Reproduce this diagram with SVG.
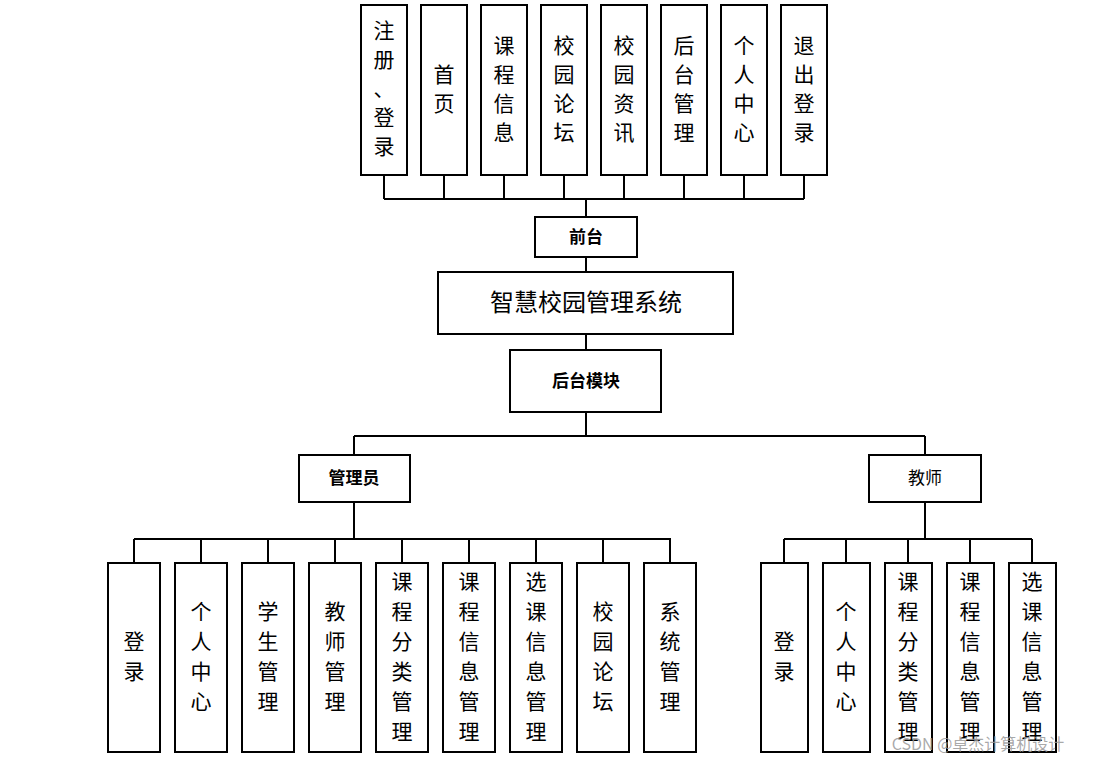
<svg xmlns="http://www.w3.org/2000/svg" width="1099" height="763" viewBox="0 0 1099 763">
<style>
rect{fill:#fff;stroke:#000;stroke-width:2}
text{font-family:"Noto Sans CJK SC","Liberation Sans",sans-serif;font-size:21px;text-anchor:middle;fill:#000}
.b{font-size:17px;font-weight:bold}
#c path{fill:none;stroke:#000;stroke-width:2}
</style>
<rect x="0" y="0" width="1099" height="763" style="fill:#fff;stroke:none"/>
<g id="c">
<path d="M384 175V199M444 175V199M504 175V199M564 175V199M624 175V199M684 175V199M744 175V199M804 175V199M384 199H804M586 199V217"/>
<path d="M586 257V272M586 334V350M586 412V436M354 436H925M354 436V455M925 436V455"/>
<path d="M354 502V539M134 539H671M134 539V563M201 539V563M268 539V563M335 539V563M402 539V563M469 539V563M536 539V563M603 539V563M670 539V563"/>
<path d="M925 502V539M784 539H1032M784 539V563M846 539V563M908 539V563M970 539V563M1032 539V563"/>
</g>
<g id="t1"><rect x="361" y="5" width="46" height="170"/><text x="384"><tspan x="384" y="38">注</tspan><tspan x="384" dy="29">册</tspan><tspan x="384" dy="29">、</tspan><tspan x="384" dy="29">登</tspan><tspan x="384" dy="29">录</tspan></text></g>
<g id="t2"><rect x="421" y="5" width="46" height="170"/><text><tspan x="444" y="82">首</tspan><tspan x="444" dy="29">页</tspan></text></g>
<g id="t3"><rect x="481" y="5" width="46" height="170"/><text><tspan x="504" y="53">课</tspan><tspan x="504" dy="29">程</tspan><tspan x="504" dy="29">信</tspan><tspan x="504" dy="29">息</tspan></text></g>
<g id="t4"><rect x="541" y="5" width="46" height="170"/><text><tspan x="564" y="53">校</tspan><tspan x="564" dy="29">园</tspan><tspan x="564" dy="29">论</tspan><tspan x="564" dy="29">坛</tspan></text></g>
<g id="t5"><rect x="601" y="5" width="46" height="170"/><text><tspan x="624" y="53">校</tspan><tspan x="624" dy="29">园</tspan><tspan x="624" dy="29">资</tspan><tspan x="624" dy="29">讯</tspan></text></g>
<g id="t6"><rect x="661" y="5" width="46" height="170"/><text><tspan x="684" y="53">后</tspan><tspan x="684" dy="29">台</tspan><tspan x="684" dy="29">管</tspan><tspan x="684" dy="29">理</tspan></text></g>
<g id="t7"><rect x="721" y="5" width="46" height="170"/><text><tspan x="744" y="53">个</tspan><tspan x="744" dy="29">人</tspan><tspan x="744" dy="29">中</tspan><tspan x="744" dy="29">心</tspan></text></g>
<g id="t8"><rect x="781" y="5" width="46" height="170"/><text><tspan x="804" y="53">退</tspan><tspan x="804" dy="29">出</tspan><tspan x="804" dy="29">登</tspan><tspan x="804" dy="29">录</tspan></text></g>
<g id="front"><rect x="535" y="217" width="102" height="40"/><text class="b" x="586" y="243">前台</text></g>
<g id="main"><rect x="438" y="272" width="295" height="62"/><text x="586" y="311" style="font-size:24px">智慧校园管理系统</text></g>
<g id="back"><rect x="510" y="350" width="151" height="62"/><text class="b" x="586" y="387">后台模块</text></g>
<g id="admin"><rect x="299" y="455" width="111" height="47"/><text class="b" x="354" y="484">管理员</text></g>
<g id="teacher"><rect x="869" y="455" width="112" height="47"/><text x="925" y="484" style="font-size:17px">教师</text></g>
<g id="a1"><rect x="108" y="563" width="52" height="189"/><text><tspan x="134" y="649">登</tspan><tspan x="134" dy="30">录</tspan></text></g>
<g id="a2"><rect x="175" y="563" width="52" height="189"/><text><tspan x="201" y="619">个</tspan><tspan x="201" dy="30">人</tspan><tspan x="201" dy="30">中</tspan><tspan x="201" dy="30">心</tspan></text></g>
<g id="a3"><rect x="242" y="563" width="52" height="189"/><text><tspan x="268" y="619">学</tspan><tspan x="268" dy="30">生</tspan><tspan x="268" dy="30">管</tspan><tspan x="268" dy="30">理</tspan></text></g>
<g id="a4"><rect x="309" y="563" width="52" height="189"/><text><tspan x="335" y="619">教</tspan><tspan x="335" dy="30">师</tspan><tspan x="335" dy="30">管</tspan><tspan x="335" dy="30">理</tspan></text></g>
<g id="a5"><rect x="376" y="563" width="52" height="189"/><text><tspan x="402" y="589">课</tspan><tspan x="402" dy="30">程</tspan><tspan x="402" dy="30">分</tspan><tspan x="402" dy="30">类</tspan><tspan x="402" dy="30">管</tspan><tspan x="402" dy="30">理</tspan></text></g>
<g id="a6"><rect x="443" y="563" width="52" height="189"/><text><tspan x="469" y="589">课</tspan><tspan x="469" dy="30">程</tspan><tspan x="469" dy="30">信</tspan><tspan x="469" dy="30">息</tspan><tspan x="469" dy="30">管</tspan><tspan x="469" dy="30">理</tspan></text></g>
<g id="a7"><rect x="510" y="563" width="52" height="189"/><text><tspan x="536" y="589">选</tspan><tspan x="536" dy="30">课</tspan><tspan x="536" dy="30">信</tspan><tspan x="536" dy="30">息</tspan><tspan x="536" dy="30">管</tspan><tspan x="536" dy="30">理</tspan></text></g>
<g id="a8"><rect x="577" y="563" width="52" height="189"/><text><tspan x="603" y="619">校</tspan><tspan x="603" dy="30">园</tspan><tspan x="603" dy="30">论</tspan><tspan x="603" dy="30">坛</tspan></text></g>
<g id="a9"><rect x="644" y="563" width="52" height="189"/><text><tspan x="670" y="619">系</tspan><tspan x="670" dy="30">统</tspan><tspan x="670" dy="30">管</tspan><tspan x="670" dy="30">理</tspan></text></g>
<g id="b1"><rect x="761" y="563" width="47" height="189"/><text><tspan x="784" y="649">登</tspan><tspan x="784" dy="30">录</tspan></text></g>
<g id="b2"><rect x="823" y="563" width="47" height="189"/><text><tspan x="846" y="619">个</tspan><tspan x="846" dy="30">人</tspan><tspan x="846" dy="30">中</tspan><tspan x="846" dy="30">心</tspan></text></g>
<g id="b3"><rect x="885" y="563" width="47" height="189"/><text><tspan x="908" y="589">课</tspan><tspan x="908" dy="30">程</tspan><tspan x="908" dy="30">分</tspan><tspan x="908" dy="30">类</tspan><tspan x="908" dy="30">管</tspan><tspan x="908" dy="30">理</tspan></text></g>
<g id="b4"><rect x="947" y="563" width="47" height="189"/><text><tspan x="970" y="589">课</tspan><tspan x="970" dy="30">程</tspan><tspan x="970" dy="30">信</tspan><tspan x="970" dy="30">息</tspan><tspan x="970" dy="30">管</tspan><tspan x="970" dy="30">理</tspan></text></g>
<g id="b5"><rect x="1009" y="563" width="47" height="189"/><text><tspan x="1032" y="589">选</tspan><tspan x="1032" dy="30">课</tspan><tspan x="1032" dy="30">信</tspan><tspan x="1032" dy="30">息</tspan><tspan x="1032" dy="30">管</tspan><tspan x="1032" dy="30">理</tspan></text></g>
<text x="978" y="750" style="font-size:16px;fill:#9a9a9a;fill-opacity:0.85">CSDN @卓杰计算机设计</text>
</svg>
